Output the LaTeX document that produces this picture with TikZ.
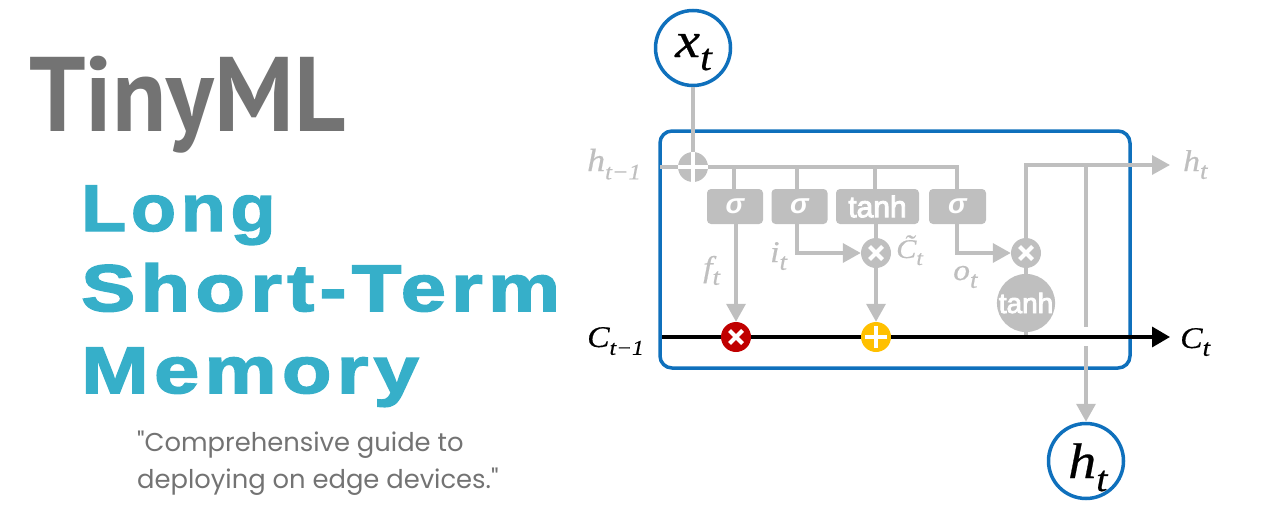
\documentclass[tikz,border=0pt]{standalone}
\usepackage{fontspec}
\usetikzlibrary{arrows.meta,calc}
\newfontfamily\titlef[FakeStretch=0.94]{PT Sans}
\newfontfamily\longf[LetterSpace=7,FakeStretch=1.12,FakeBold=2]{Liberation Sans}
\newfontfamily\longg[LetterSpace=8,FakeStretch=1.23,FakeBold=2.5]{Liberation Sans}
\newfontfamily\quotef{Poppins}
\newfontfamily\boxf{Liberation Sans}
\newfontfamily\boxg[FakeBold=3]{Liberation Sans}
\newfontfamily\mathf[FakeBold=0.5,FakeStretch=1.12]{Liberation Serif}
\newcommand\lblm[4]{{\fontsize{#1}{#1}\selectfont\mathf\itshape #3\raisebox{-.26em}{\fontsize{#2}{#2}\selectfont #4}}}
\definecolor{ghost}{HTML}{BFBFBF}
\definecolor{cellblue}{HTML}{0F70BC}
\definecolor{titlegrey}{HTML}{737373}
\definecolor{teal2}{HTML}{36AFC9}
\definecolor{opred}{HTML}{C00000}
\definecolor{opyellow}{HTML}{FFC000}
\tikzset{
 ghostline/.style={draw=ghost,line width=3.5pt},
 ghostarrow/.style={ghostline,-{Triangle[length=18pt,width=19pt]}},
 gatebox/.style={fill=ghost,rounded corners=4pt,minimum height=35pt,inner sep=0pt,text=white,font=\boxg\fontsize{30}{30}\selectfont},
 sigmatext/.style={font=\boxf\bfseries\itshape\fontsize{28}{28}\selectfont},
 portcircle/.style={circle,draw=cellblue,line width=3.5pt,fill=white,minimum size=75pt,inner sep=0pt},
 opbase/.style={circle,minimum size=30pt,inner sep=0pt},
 opplus/.style={opbase,path picture={\draw[white,line width=3.5pt] ([xshift=-#1pt]path picture bounding box.center)--([xshift=#1pt]path picture bounding box.center) ([yshift=-#1pt]path picture bounding box.center)--([yshift=#1pt]path picture bounding box.center);}},
 optimes/.style={opbase,path picture={\draw[white,line width=4pt] ([shift={(-6.5pt,-6.5pt)}]path picture bounding box.center)--([shift={(6.5pt,6.5pt)}]path picture bounding box.center) ([shift={(-6.5pt,6.5pt)}]path picture bounding box.center)--([shift={(6.5pt,-6.5pt)}]path picture bounding box.center);}},
 ghostlabel/.style={text=ghost,inner sep=0pt,anchor=base west},
 darklabel/.style={text=black,inner sep=0pt,anchor=base west},
 textline/.style={anchor=base west,inner sep=0pt},
 longline/.style={textline,text=teal2,font=\longf\bfseries\fontsize{66}{66}\selectfont},
 longwide/.style={textline,text=teal2,font=\longg\bfseries\fontsize{66}{66}\selectfont},
 quoteline/.style={textline,text=titlegrey,font=\quotef\fontsize{25.8}{26}\selectfont},
}
\begin{document}
\begin{tikzpicture}[x=1pt,y=-1pt]
\useasboundingbox (0,0) rectangle (1280,506);
% text
\node[textline,text=titlegrey,font=\titlef\bfseries\fontsize{106}{106}\selectfont] (title) at (29,131) {TinyML};
\node[longline] (l1) at (81,231) {Long};
\node[longwide] (l2) at (81,311) {Short-Term};
\node[longwide] (l3) at (81,393) {Memory};
\node[quoteline] (q1) at (137,451) {"Comprehensive guide to};
\node[quoteline] (q2) at (137,488) {deploying on edge devices."};
% cell
\draw[cellblue,line width=3.5pt,rounded corners=12pt] (660,131) rectangle (1130,368);
% nodes
\node[portcircle] (xt) at (693,48) {};
\node[portcircle] (ht) at (1086,461) {};
\node[darklabel] (xtl) at (675,57) {\lblm{50}{38}{x}{t}};
\node[darklabel] (htl) at (1068,478) {\lblm{50}{36}{h}{t}};
\node[opplus=15,fill=ghost] (add) at (693,167) {};
\node[gatebox,minimum width=56pt,sigmatext] (s1) at (735,206.5) {σ};
\node[gatebox,minimum width=56pt,sigmatext] (s2) at (799.5,206.5) {σ};
\node[gatebox,minimum width=83pt] (tn) at (877.5,206.5) {tanh};
\node[gatebox,minimum width=57pt,sigmatext] (s3) at (957.5,206.5) {σ};
\node[optimes,fill=opred] (forget) at (736,337) {};
\node[opplus=11,fill=opyellow] (update) at (876,337) {};
\node[optimes,fill=ghost] (mulc) at (876,253) {};
\node[optimes,fill=ghost] (mulo) at (1026,253) {};
\node[circle,fill=ghost,minimum size=54pt,inner sep=0pt,text=white,font=\boxg\fontsize{28}{28}\selectfont] (tan2) at (1026,303) {tanh};
% free ends
\coordinate (hin) at (660,167);
\coordinate (cin) at (662,337);
\coordinate (hright) at (957,167);
\coordinate (cout) at (1170,337);
\coordinate (hout) at (1170,165);
\coordinate (hcorner) at (1026,165);
\coordinate (split) at (1086,165);
\coordinate (splitend) at (1086,327);
\coordinate (splitstart) at (1086,346);
\coordinate (tanfoot) at (1026,337);
\coordinate (ta) at (734,167);
\coordinate (tb) at (797,167);
\coordinate (tc) at (875,167);
\coordinate (bb) at (797,224);
\coordinate (bc) at (957,224);
% ghost lines
\draw[ghostline] (xt.south) -- (add.north);
\draw[ghostline] (hin) -- (add.west);
\draw[ghostline] (add.east) -- (hright) -- (hright|-s3.north);
\draw[ghostline] (ta) -- (ta|-s1.north);
\draw[ghostline] (tb) -- (tb|-s2.north);
\draw[ghostline] (tc) -- (tc|-tn.north);
\draw[ghostarrow] (forget.north|-s1.south) -- (forget.north);
\draw[ghostarrow] (bb) |- (mulc.west);
\draw[ghostline] (mulc.north|-tn.south) -- (mulc.north);
\draw[ghostarrow] (mulc.south) -- (update.north);
\draw[ghostarrow] (bc) |- (mulo.west);
\draw[ghostline] (mulo.south) -- (tan2.north);
\draw[ghostline] (tan2.south) -- (tanfoot);
\draw[ghostline] (mulo.north) -- (hcorner) -- (split);
\draw[ghostarrow] (split) -- (hout);
\draw[ghostline] (split) -- (splitend);
\draw[ghostarrow] (splitstart) -- (ht.north);
% C line
\draw[black,line width=3.5pt] (cin) -- (forget.west);
\draw[black,line width=3.5pt] (forget.east) -- (update.west);
\draw[black,line width=3.5pt,-{Triangle[length=18pt,width=20pt]}] (update.east) -- (cout);
% labels
\node[ghostlabel] (lh1) at (587,171) {\lblm{32}{22}{h}{t−1}};
\node[darklabel] (lc1) at (587,347) {\lblm{30}{21}{C}{t−1}};
\node[ghostlabel] (lf) at (703,277) {\lblm{30}{24}{f}{t}};
\node[ghostlabel] (li) at (770,262) {\lblm{30}{24}{i}{t}};
\node[ghostlabel] (lct) at (896,258) {\lblm{27}{21}{\~{C}}{t}};
\node[ghostlabel] (lo) at (953,280) {\lblm{30}{24}{o}{t}};
\node[ghostlabel] (lh2) at (1183,171) {\lblm{30}{24}{h}{t}};
\node[darklabel] (lc2) at (1180,348) {\lblm{30}{24}{C}{t}};
\end{tikzpicture}
\end{document}
